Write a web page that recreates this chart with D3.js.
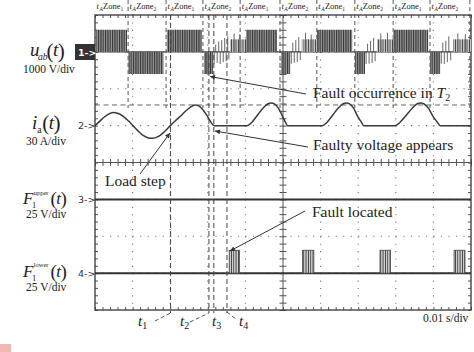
<!DOCTYPE html>
<html><head><meta charset="utf-8">
<script src="https://cdn.jsdelivr.net/npm/d3@7"></script>
<style>
body{margin:0;background:#fff}
svg{display:block}
text{font-family:"Liberation Serif","Times New Roman",serif;fill:#222}
</style>
</head><body>
<svg id="c" width="474" height="352"></svg>
<script>
// ---------------- data ----------------
const timeDomain = [0, 100];                 // ms, 10 div x 10 ms (0.01 s/div)
const zoneBounds = [0, 8.8, 18.9, 28.7, 38.6, 49.2, 59.0, 69.1, 79.3, 89.1, 99.7];
const zoneIndex  = ["1","2","1","2","1","2","1","2","1","2"];
// u_ab PWM bursts: [start ms, end ms, level V]
const uBursts = [
  [0.3, 8.5, 600], [8.9, 18.2, -600], [19.1, 28.4, 600], [29.0, 31.4, -600],
  [35.9, 40.2, 340], [40.2, 48.4, 600], [49.5, 51.9, -600], [55.0, 59.0, 340],
  [59.0, 68.4, 600], [69.1, 71.8, -600], [75.0, 79.3, 340], [79.3, 88.6, 600],
  [89.1, 91.8, -600], [95.2, 100, 340]
];
// isolated u_ab pulses after the fault: [time ms, level V]
const uSpikes = [
  [31.7,-320],[32.1,200],[32.5,-300],[32.9,280],[33.3,-330],[33.7,320],[34.1,-280],[34.5,380],[34.9,-250],[35.3,420],[35.6,-200],
  [37.0,500],[38.5,480],
  [52.2,-320],[52.6,250],[53.0,-300],[53.4,320],[53.8,-280],[54.2,400],[54.6,-220],
  [56.0,520],[57.5,470],
  [72.1,-330],[72.5,220],[72.9,-320],[73.3,300],[73.7,-300],[74.1,380],[74.5,-250],
  [76.0,500],[77.8,520],
  [92.1,-320],[92.5,250],[92.9,-330],[93.3,300],[93.7,-280],[94.1,420],[94.6,-230],
  [96.5,500],[98.5,480]
];
// i_a(t) samples: [time ms, current A]
const iPoints = [
  [0,0],[1.5,4.3],[2.5,7],[3.5,9.2],[4.8,10.6],[6,10.1],[7.5,7.6],[9,3.5],[10,0.3],
  [11.5,-4.5],[12.8,-8],[14.2,-10],[15.4,-10.3],[16.6,-9.2],[17.5,-7.5],[18.8,-4],[20,0],
  [21.3,3.8],[22.6,7.3],[24,11.5],[25.3,14.8],[26.6,16.7],[27.9,15.5],[28.8,12.5],[29.7,8.5],[30.5,4.5],[31.2,1.2],[31.8,0],
  [40.4,0],[41.8,3],[43.2,8.5],[44.6,14],[46,17.8],[46.8,18.5],[47.8,17.5],[48.8,14],[49.8,8],[50.6,3],[51.2,0],
  [60.4,0],[61.8,3],[63.2,8.5],[64.6,14],[66,17.8],[66.8,18.5],[67.8,17.5],[68.8,14],[69.8,8],[70.8,3],[71.5,0],
  [79.8,0],[81.2,3],[82.8,8.5],[84.3,14],[85.7,17.8],[86.6,18.5],[87.6,17.5],[88.7,14],[89.8,8],[91,3],[91.8,0],
  [100,0]
];
const fUpper = [[0,0],[100,0]];
const fLower = [[0,0],[100,0]];
// F_lower pulse bursts: [start ms, end ms, level V]
const fLowerBursts = [[35.7,38.4,15.5],[55.2,58.2,15.5],[75.8,78.6,15.5],[95.5,98.4,15.5]];
// time cursors
const cursors = [{n:"1",t:20.1},{n:"2",t:30.3},{n:"3",t:31.6},{n:"4",t:35.1}];

// ---------------- layout ----------------
const svg = d3.select("#c");
const X0=95, X1=471, Y0=15, Y1=310;
const divH=(Y1-Y0)/8;
const x = d3.scaleLinear().domain(timeDomain).range([X0,X1]);
const yDiv = d3.scaleLinear().domain([0,8]).range([Y0,Y1]);
const off = k => yDiv(k);
const yU  = d3.scaleLinear().domain([0,1000]).range([off(1), off(1)-divH]);
const yI  = d3.scaleLinear().domain([0,30]).range([off(3), off(3)-divH]);
const yF3 = d3.scaleLinear().domain([0,25]).range([off(5), off(5)-divH]);
const yF4 = d3.scaleLinear().domain([0,25]).range([off(7), off(7)-divH]);

const defs = svg.append("defs");
function stripes(id, bg, lines){
  const p = defs.append("pattern").attr("id",id).attr("patternUnits","userSpaceOnUse")
    .attr("width",7).attr("height",50);
  p.append("rect").attr("width",7).attr("height",50).attr("fill",bg);
  lines.forEach(l=>p.append("rect").attr("x",l[0]).attr("width",l[1]).attr("height",50).attr("fill","#3a3a3a"));
}
stripes("pwm","#9c9c9c",[[0,1.2],[2.1,0.7],[3.4,1],[5.3,0.8]]);
stripes("pwmL","#c4c4c4",[[0,0.9],[2.6,0.6],[4.6,0.8]]);
stripes("fp","#cfcfcf",[[0,0.9],[2.3,0.8],[4.6,0.9]]);
defs.append("marker").attr("id","ah").attr("viewBox","0 0 10 10").attr("refX",10).attr("refY",5)
  .attr("markerWidth",7).attr("markerHeight",5).attr("orient","auto")
  .append("path").attr("d","M0,0L10,5L0,10z").attr("fill","#333");

// ---------------- grid ----------------
const grid = svg.append("g");
d3.range(1,10).filter(i=>i!==5).forEach(i=>{
  grid.append("line").attr("x1",x(i*10)).attr("x2",x(i*10)).attr("y1",Y0).attr("y2",Y1)
    .attr("stroke","#777").attr("stroke-width",1.1).attr("stroke-dasharray","1.2,6.175");
});
d3.range(1,8).filter(k=>k!==4).forEach(k=>{
  grid.append("line").attr("x1",X0).attr("x2",X1).attr("y1",off(k)).attr("y2",off(k))
    .attr("stroke","#777").attr("stroke-width",1.1).attr("stroke-dasharray","1.2,6.32");
});
grid.append("line").attr("x1",X0).attr("x2",X1).attr("y1",yI(16.8)).attr("y2",yI(16.8))
  .attr("stroke","#666").attr("stroke-width",1).attr("stroke-dasharray","5,3.5");
grid.append("line").attr("x1",x(50)).attr("x2",x(50)).attr("y1",Y0).attr("y2",Y1).attr("stroke","#555");
grid.append("line").attr("x1",X0).attr("x2",X1).attr("y1",off(4)).attr("y2",off(4)).attr("stroke","#555");

const tx = d3.range(0,100.01,2), ty = d3.range(0,8.001,0.2);
function tickAxis(gen, tr){
  const g = grid.append("g").attr("transform",tr).call(gen);
  g.select(".domain").remove();
  g.selectAll("line").attr("stroke","#555");
  g.selectAll("text").remove();
}
tickAxis(d3.axisBottom(x).tickValues(tx).tickSize(3).tickFormat(""), `translate(0,${Y0})`);
tickAxis(d3.axisTop(x).tickValues(tx).tickSize(3).tickFormat(""), `translate(0,${Y1})`);
tickAxis(d3.axisTop(x).tickValues(tx).tickSize(7).tickFormat(""), `translate(0,${off(4)+3.5})`);
tickAxis(d3.axisRight(yDiv).tickValues(ty).tickSize(3).tickFormat(""), `translate(${X0},0)`);
tickAxis(d3.axisLeft(yDiv).tickValues(ty).tickSize(3).tickFormat(""), `translate(${X1},0)`);
tickAxis(d3.axisLeft(yDiv).tickValues(ty).tickSize(7).tickFormat(""), `translate(${x(50)+3.5},0)`);
grid.append("rect").attr("x",X0).attr("y",Y0).attr("width",X1-X0).attr("height",Y1-Y0)
  .attr("fill","none").attr("stroke","#444").attr("stroke-width",1.4);

// ---------------- zone labels ----------------
const zg = svg.append("g");
zoneBounds.slice(1).forEach(b=>{
  zg.append("line").attr("x1",x(b)).attr("x2",x(b)).attr("y1",0).attr("y2",108)
    .attr("stroke","#555").attr("stroke-width",1).attr("stroke-dasharray","4,3");
});
zoneIndex.forEach((z,i)=>{
  const x0 = x(zoneBounds[i]) + 1.5;
  const t = zg.append("text").attr("x",x0).attr("y",9).style("font-size","8.5px");
  t.append("tspan").style("font-style","italic").text("t");
  t.append("tspan").style("font-style","italic").style("font-size","5.5px").attr("dy",2).attr("dx",0.5).text("A");
  t.append("tspan").attr("dy",-2).attr("dx",0.3).text("Zone");
  t.append("tspan").style("font-size","5.5px").attr("dy",2).text(z);
});

// ---------------- traces ----------------
const tr = svg.append("g");
tr.append("line").attr("x1",x(0)).attr("x2",x(100)).attr("y1",yU(0)).attr("y2",yU(0))
  .attr("stroke","#444").attr("stroke-width",1.2);
tr.selectAll(".ub").data(uBursts).join("rect")
  .attr("x",d=>x(d[0])).attr("width",d=>x(d[1])-x(d[0]))
  .attr("y",d=>Math.min(yU(0),yU(d[2]))).attr("height",d=>Math.abs(yU(d[2])-yU(0)))
  .attr("fill",d=>Math.abs(d[2])<500?"url(#pwmL)":"url(#pwm)");
tr.selectAll(".us").data(uSpikes).join("line")
  .attr("x1",d=>x(d[0])).attr("x2",d=>x(d[0])).attr("y1",yU(0)).attr("y2",d=>yU(d[1]))
  .attr("stroke","#555").attr("stroke-width",0.9);

tr.append("path").datum(iPoints)
  .attr("d",d3.line().x(d=>x(d[0])).y(d=>yI(d[1])).curve(d3.curveMonotoneX))
  .attr("fill","none").attr("stroke","#3a3a3a").attr("stroke-width",1.5);

tr.append("path").datum(fUpper).attr("d",d3.line().x(d=>x(d[0])).y(d=>yF3(d[1])))
  .attr("stroke","#333").attr("stroke-width",2);
tr.append("path").datum(fLower).attr("d",d3.line().x(d=>x(d[0])).y(d=>yF4(d[1])))
  .attr("stroke","#333").attr("stroke-width",2);
tr.selectAll(".fb").data(fLowerBursts).join("rect")
  .attr("x",d=>x(d[0])).attr("width",d=>x(d[1])-x(d[0]))
  .attr("y",d=>yF4(d[2])).attr("height",d=>yF4(0)-yF4(d[2]))
  .attr("fill","url(#fp)").attr("stroke","#444").attr("stroke-width",0.8);

// ---------------- cursors ----------------
const cg = svg.append("g");
cursors.forEach(c=>{
  cg.append("line").attr("x1",x(c.t)).attr("x2",x(c.t)).attr("y1",Y0).attr("y2",Y1+3)
    .attr("stroke","#444").attr("stroke-width",1).attr("stroke-dasharray","5,3");
});
const leaders = [[155,321,x(20.1),313],[190,322,x(30.3),313],[x(35.1),312,237,320]];
leaders.forEach(l=>cg.append("line").attr("x1",l[0]).attr("y1",l[1]).attr("x2",l[2]).attr("y2",l[3])
  .attr("stroke","#555").attr("stroke-dasharray","4,2.5"));
const tLabX = {"1":138,"2":180,"3":212,"4":239};
cursors.forEach(c=>{
  const t = cg.append("text").attr("x",tLabX[c.n]).attr("y",326).style("font-size","15px");
  t.append("tspan").style("font-style","italic").text("t");
  t.append("tspan").style("font-size","10px").attr("dy",3).text(c.n);
});
svg.append("text").attr("x",423).attr("y",322).style("font-size","11.5px").text("0.01 s/div");

// ---------------- channel markers ----------------
svg.append("rect").attr("x",75).attr("y",44).attr("width",20).attr("height",16).attr("fill","#333");
svg.append("text").attr("x",78).attr("y",55.5).style("font-family","DejaVu Sans").style("font-size","9.5px")
  .style("font-weight","bold").style("fill","#fff").text("1->");
[[3,"2->"],[5,"3->"],[7,"4->"]].forEach(m=>{
  svg.append("text").attr("x",78).attr("y",off(m[0])+3.5).style("font-family","DejaVu Sans")
    .style("font-size","9.5px").style("fill","#333").text(m[1]);
});

// ---------------- left labels ----------------
function label(xp, yp, parts){
  const t = svg.append("text").attr("x",xp).attr("y",yp);
  parts.forEach(p=>{
    const s = t.append("tspan").style("font-size",p.s+"px").text(p.t);
    if(p.i) s.style("font-style","italic");
    if(p.dx) s.attr("dx",p.dx);
    if(p.dy) s.attr("dy",p.dy);
  });
}
label(30,56,[{t:"u",s:19,i:1},{t:"ab",s:9.5,i:1,dy:4,dx:-1.5},{t:"(",s:21,dy:-2,dx:-1},{t:"t",s:19,i:1,dy:-2,dx:-0.5},{t:")",s:21,dy:2,dx:-0.5}]);
svg.append("text").attr("x",23).attr("y",73).style("font-size","11.5px").text("1000 V/div");
label(32,129,[{t:"i",s:19,i:1},{t:"a",s:10,dy:4,dx:0},{t:"(",s:21,dy:-3,dx:0.5},{t:"t",s:19,i:1,dy:-1,dx:-0.5},{t:")",s:21,dy:1,dx:-0.5}]);
svg.append("text").attr("x",26).attr("y",145).style("font-size","11.5px").text("30 A/div");
label(23,204,[{t:"F",s:17,i:1},{t:"1",s:8.5,dy:4,dx:-1.5},{t:"upper",s:6.5,dy:-13,dx:-2.5},{t:"(",s:19,dy:9.5,dx:2},{t:"t",s:17,i:1,dy:-0.5,dx:-0.5},{t:")",s:19,dy:0.5,dx:-0.5}]);
svg.append("text").attr("x",26).attr("y",218).style("font-size","11.5px").text("25 V/div");
label(23,277,[{t:"F",s:17,i:1},{t:"1",s:8.5,dy:4,dx:-1.5},{t:"lower",s:6.5,dy:-14,dx:-2.5},{t:"(",s:19,dy:10.5,dx:2},{t:"t",s:17,i:1,dy:-0.5,dx:-0.5},{t:")",s:19,dy:0.5,dx:-0.5}]);
svg.append("text").attr("x",26).attr("y",291).style("font-size","11.5px").text("25 V/div");

// ---------------- annotations ----------------
const ann = svg.append("g");
const arrows = [[306,94,210,76.5],[308,147,215,131],[140,174,170,133],[305,211,230,251]];
arrows.forEach(a=>ann.append("line").attr("x1",a[0]).attr("y1",a[1]).attr("x2",a[2]).attr("y2",a[3])
  .attr("stroke","#333").attr("stroke-width",1).attr("marker-end","url(#ah)"));
const a1 = ann.append("text").attr("x",313).attr("y",97.5).style("font-size","15.5px");
a1.append("tspan").text("Fault occurrence in ");
a1.append("tspan").style("font-style","italic").text("T");
a1.append("tspan").style("font-size","10px").attr("dy",3.5).text("2");
ann.append("text").attr("x",313).attr("y",149.5).style("font-size","15.5px").text("Faulty voltage appears");
ann.append("text").attr("x",105).attr("y",186).style("font-size","15.5px").text("Load step");
ann.append("text").attr("x",312).attr("y",217).style("font-size","15.5px").text("Fault located");

svg.append("rect").attr("x",0).attr("y",344).attr("width",11).attr("height",8).attr("fill","#f2b8b0");
</script>
</body></html>
